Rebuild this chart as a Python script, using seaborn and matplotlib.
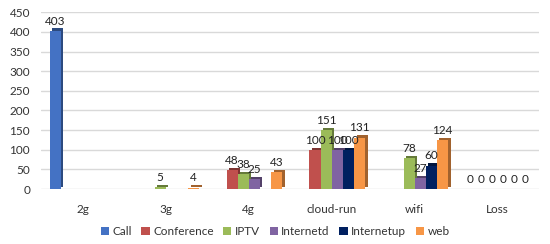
import matplotlib
matplotlib.use("Agg")
import matplotlib.pyplot as plt
import matplotlib.patheffects as pe
import matplotlib.colors as mcolors
import numpy as np
import pandas as pd
import seaborn as sns

categories = ["2g", "3g", "4g", "cloud-run", "wifi", "Loss"]
series = ["Call", "Conference", "IPTV", "Internetd", "Internetup", "web"]
nan = np.nan
call = [403, nan, nan, nan, nan, 0]
conference = [nan, nan, 48, 100, nan, 0]
iptv = [nan, 5, 38, 151, 78, 0]
internetd = [nan, nan, 25, 100, 27, 0]
internetup = [nan, nan, nan, 100, 60, 0]
web = [nan, 4, 43, 131, 124, 0]
yticks = [0, 50, 100, 150, 200, 250, 300, 350, 400, 450]
colors = ["#4472C4", "#C0504D", "#9BBB59", "#8064A2", "#002060", "#F79646"]

values = [call, conference, iptv, internetd, internetup, web]
rows = []
for s, vals in zip(series, values):
    for c, v in zip(categories, vals):
        rows.append({"cat": c, "series": s, "value": v})
df = pd.DataFrame(rows).dropna()

sns.set_theme(style="white")
plt.rcParams["font.family"] = ["Lato", "DejaVu Sans"]

fig = plt.figure(figsize=(5.5, 2.44), dpi=100)
ax = fig.add_axes([0.075, 0.225, 0.905, 0.725])

sns.barplot(data=df, x="cat", y="value", hue="series", order=categories,
            hue_order=series, palette=colors, ax=ax, width=0.8,
            saturation=1, errorbar=None, legend=True, linewidth=0)

for cont, col in zip(ax.containers, colors):
    dark = tuple(np.array(mcolors.to_rgb(col)) * 0.65)
    for p in cont.patches:
        p.set_linewidth(0)
        p.set_path_effects([pe.SimplePatchShadow(offset=(2.0, 1.6), shadow_rgbFace=dark, alpha=1.0),
                            pe.Normal()])
    ax.bar_label(cont, fmt="%d", padding=3, fontsize=8.5, color="#222222")

ax.set_ylim(0, 450)
ax.set_yticks(yticks)
ax.set_xlabel("")
ax.set_ylabel("")
ax.yaxis.grid(True, color="#D9D9D9", linewidth=1)
ax.set_axisbelow(True)
for sp in ax.spines.values():
    sp.set_visible(False)
ax.tick_params(axis="y", labelsize=8.5, colors="#333333", pad=8, length=0)
ax.tick_params(axis="x", labelsize=8.5, colors="#333333", pad=11, length=0)

leg = ax.legend(loc="lower center", bbox_to_anchor=(0.5, -0.0), bbox_transform=fig.transFigure,
                ncol=6, frameon=False, fontsize=8.5, handlelength=0.7, handleheight=0.7,
                handletextpad=0.3, columnspacing=0.8, borderaxespad=0.2)
for t in leg.get_texts():
    t.set_color("#333333")

fig.savefig("out.png", dpi=100)
